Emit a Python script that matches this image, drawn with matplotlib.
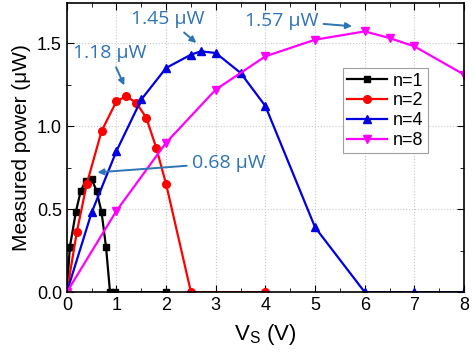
import matplotlib
matplotlib.use("Agg")
import matplotlib.pyplot as plt
from matplotlib.ticker import MultipleLocator, FormatStrFormatter

plt.rcParams["font.family"] = ["Liberation Sans", "DejaVu Sans"]

# n=1 (black squares)
v_n1 = [0, 0.06, 0.18, 0.28, 0.38, 0.5, 0.6, 0.7, 0.79, 0.87, 0.98, 2.0]
p_n1 = [0, 0.27, 0.48, 0.61, 0.67, 0.68, 0.61, 0.48, 0.27, 0, 0, 0]

# n=2 (red circles)
v_n2 = [0, 0.2, 0.4, 0.7, 1.0, 1.2, 1.4, 1.6, 1.8, 2.0, 2.5, 4.0]
p_n2 = [0, 0.36, 0.65, 0.97, 1.15, 1.18, 1.14, 1.05, 0.87, 0.65, 0, 0]

# n=4 (blue up-triangles)
v_n4 = [0, 0.5, 1.0, 1.5, 2.0, 2.5, 2.7, 3.0, 3.5, 4.0, 5.0, 6.0, 7.0, 8.0]
p_n4 = [0, 0.48, 0.85, 1.16, 1.35, 1.43, 1.45, 1.44, 1.32, 1.12, 0.39, 0, 0, 0]

# n=8 (magenta down-triangles)
v_n8 = [0, 1, 2, 3, 4, 5, 6, 6.5, 7, 8]
p_n8 = [0, 0.49, 0.90, 1.22, 1.42, 1.52, 1.57, 1.53, 1.48, 1.31]

ann_color = "#2f74b5"
ann_font = ["Open Sans", "DejaVu Sans"]

fig = plt.figure(figsize=(4.74, 3.52), dpi=100)
ax = fig.add_axes([0.141, 0.17, 0.838, 0.821])

ax.plot(v_n1, p_n1, color="black", marker="s", ms=5, lw=1.6, label="n=1")
ax.plot(v_n2, p_n2, color="red", marker="o", ms=5.5, lw=1.6, label="n=2")
ax.plot(v_n4, p_n4, color="#0000e0", marker="^", ms=6, lw=1.6, label="n=4")
ax.plot(v_n8, p_n8, color="#ff00ff", marker="v", ms=6, lw=1.6, label="n=8")

ax.set_xlim(0, 8)
ax.set_ylim(0, 1.74)
ax.xaxis.set_major_locator(MultipleLocator(1))
ax.xaxis.set_minor_locator(MultipleLocator(0.5))
ax.yaxis.set_major_locator(MultipleLocator(0.5))
ax.yaxis.set_minor_locator(MultipleLocator(0.25))
ax.yaxis.set_major_formatter(FormatStrFormatter("%.1f"))
ax.tick_params(which="both", direction="in", top=True, right=True, labelsize=13)
ax.tick_params(which="major", length=5)
ax.tick_params(which="minor", length=3)
ax.grid(True, which="major", linestyle=":", color="#c8c8c8", lw=0.8)
for s in ax.spines.values():
    s.set_linewidth(1.2)

ax.set_xlabel(r"V$_\mathregular{S}$ (V)", fontsize=16, labelpad=6)
ax.set_ylabel("Measured power (\u03bcW)", fontsize=15, labelpad=4)

arrow = dict(arrowstyle="-|>", color=ann_color, lw=1.4, mutation_scale=9)
ax.annotate("1.18 \u03bcW", xy=(1.18, 1.23), xytext=(0.86, 1.44),
            color=ann_color, fontsize=14, family=ann_font,
            ha="center", va="center", arrowprops=arrow)
ax.annotate("1.45 \u03bcW", xy=(2.65, 1.49), xytext=(2.04, 1.645),
            color=ann_color, fontsize=14, family=ann_font,
            ha="center", va="center", arrowprops=arrow)
ax.annotate("1.57 \u03bcW", xy=(5.8, 1.6), xytext=(4.32, 1.635),
            color=ann_color, fontsize=14, family=ann_font,
            ha="center", va="center", arrowprops=arrow)
ax.annotate("0.68 \u03bcW", xy=(0.56, 0.72), xytext=(3.27, 0.78),
            color=ann_color, fontsize=14, family=ann_font,
            ha="center", va="center", arrowprops=arrow)

leg = ax.legend(loc="upper left", bbox_to_anchor=(0.695, 0.775), fontsize=13,
                frameon=True, fancybox=False, edgecolor="#888888",
                handlelength=2.2, handletextpad=0.3, borderpad=0.25,
                labelspacing=0.15, borderaxespad=0)
leg.get_frame().set_linewidth(0.8)

fig.savefig("out.png", dpi=100)
